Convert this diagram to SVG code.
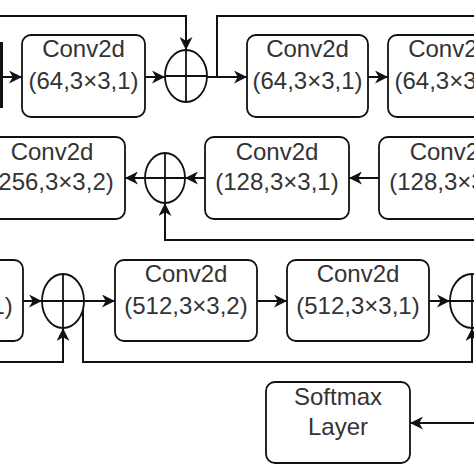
<svg xmlns="http://www.w3.org/2000/svg" width="474" height="474" viewBox="0 0 474 474">
<defs>
<marker id="ah" viewBox="0 0 12 12" refX="12" refY="6" markerWidth="13" markerHeight="13" markerUnits="userSpaceOnUse" orient="auto">
<path d="M0,0 L12,6 L0,12 L3.5,6 Z" fill="#111"/>
</marker>
</defs>
<style>
.n rect{fill:#fff;stroke:#111;stroke-width:1.8}
.n text{font-family:"Liberation Sans",Arial,sans-serif;font-size:24px;fill:#333;text-anchor:middle}
.s ellipse{fill:#fff;stroke:#111;stroke-width:1.8}
.s line{stroke:#111;stroke-width:1.8}
.c path{fill:none;stroke:#111;stroke-width:2}
.c .a{marker-end:url(#ah)}
</style>
<rect width="474" height="474" fill="#fff"/>
<g class="c" id="connectors">
<path class="a" d="M3,77 L22,77"/>
<path class="a" d="M145,77 L165,77"/>
<path class="a" d="M207,77 L247,77"/>
<path class="a" d="M368,77 L388,77"/>
<path class="a" d="M0,16 L186,16 L186,50"/>
<path d="M217,77 L217,16 L474,16"/>
<path class="a" d="M379,178 L349,178"/>
<path class="a" d="M205,178 L185,178"/>
<path class="a" d="M145,178 L125,178"/>
<path class="a" d="M474,240 L165,240 L165,203"/>
<path class="a" d="M23,301 L42,301"/>
<path class="a" d="M84,301 L115,301"/>
<path class="a" d="M257,301 L287,301"/>
<path class="a" d="M429,301 L450,301"/>
<path class="a" d="M0,362 L63,362 L63,328"/>
<path class="a" d="M83,301 L83,362 L472,362 L472,328"/>
<path class="a" d="M474,423 L410,423"/>
</g>
<g id="input"><rect x="-10" y="42" width="13" height="66" fill="#111"/></g>
<g class="n" id="n1"><rect x="22" y="35" width="123" height="82" rx="9"/><text x="83.5" y="57">Conv2d</text><text x="83.5" y="89">(64,3×3,1)</text></g>
<g class="n" id="n2"><rect x="247" y="35" width="121" height="82" rx="9"/><text x="307.5" y="57">Conv2d</text><text x="307.5" y="89">(64,3×3,1)</text></g>
<g class="n" id="n3"><rect x="388" y="35" width="123" height="82" rx="9"/><text x="449.5" y="57">Conv2d</text><text x="449.5" y="89">(64,3×3,1)</text></g>
<g class="n" id="n4"><rect x="379" y="137" width="144" height="82" rx="9"/><text x="451" y="160">Conv2d</text><text x="451" y="190">(128,3×3,1)</text></g>
<g class="n" id="n5"><rect x="205" y="137" width="144" height="82" rx="9"/><text x="277" y="160">Conv2d</text><text x="277" y="190">(128,3×3,1)</text></g>
<g class="n" id="n6"><rect x="-20" y="137" width="145" height="82" rx="9"/><text x="52" y="160">Conv2d</text><text x="52" y="190">(256,3×3,2)</text></g>
<g class="n" id="n7"><rect x="-121" y="260" width="144" height="81" rx="9"/><text x="-49" y="282">Conv2d</text><text x="-49" y="314">(256,3×3,1)</text></g>
<g class="n" id="n8"><rect x="115" y="260" width="142" height="81" rx="9"/><text x="186" y="282">Conv2d</text><text x="186" y="314">(512,3×3,2)</text></g>
<g class="n" id="n9"><rect x="287" y="260" width="142" height="81" rx="9"/><text x="358" y="282">Conv2d</text><text x="358" y="314">(512,3×3,1)</text></g>
<g class="n" id="softmax"><rect x="266" y="382" width="144" height="81" rx="9"/><text x="338" y="405">Softmax</text><text x="338" y="435">Layer</text></g>
<g class="s" id="sum1"><ellipse cx="186" cy="76" rx="21" ry="26"/><line x1="165" y1="76" x2="207" y2="76"/><line x1="186" y1="50" x2="186" y2="102"/></g>
<g class="s" id="sum2"><ellipse cx="165" cy="178" rx="20" ry="25"/><line x1="145" y1="178" x2="185" y2="178"/><line x1="165" y1="153" x2="165" y2="203"/></g>
<g class="s" id="sum3"><ellipse cx="63" cy="301" rx="21" ry="27"/><line x1="42" y1="301" x2="84" y2="301"/><line x1="63" y1="274" x2="63" y2="328"/></g>
<g class="s" id="sum4"><ellipse cx="472" cy="301" rx="22" ry="27"/><line x1="450" y1="301" x2="494" y2="301"/><line x1="472" y1="274" x2="472" y2="328"/></g>
</svg>
